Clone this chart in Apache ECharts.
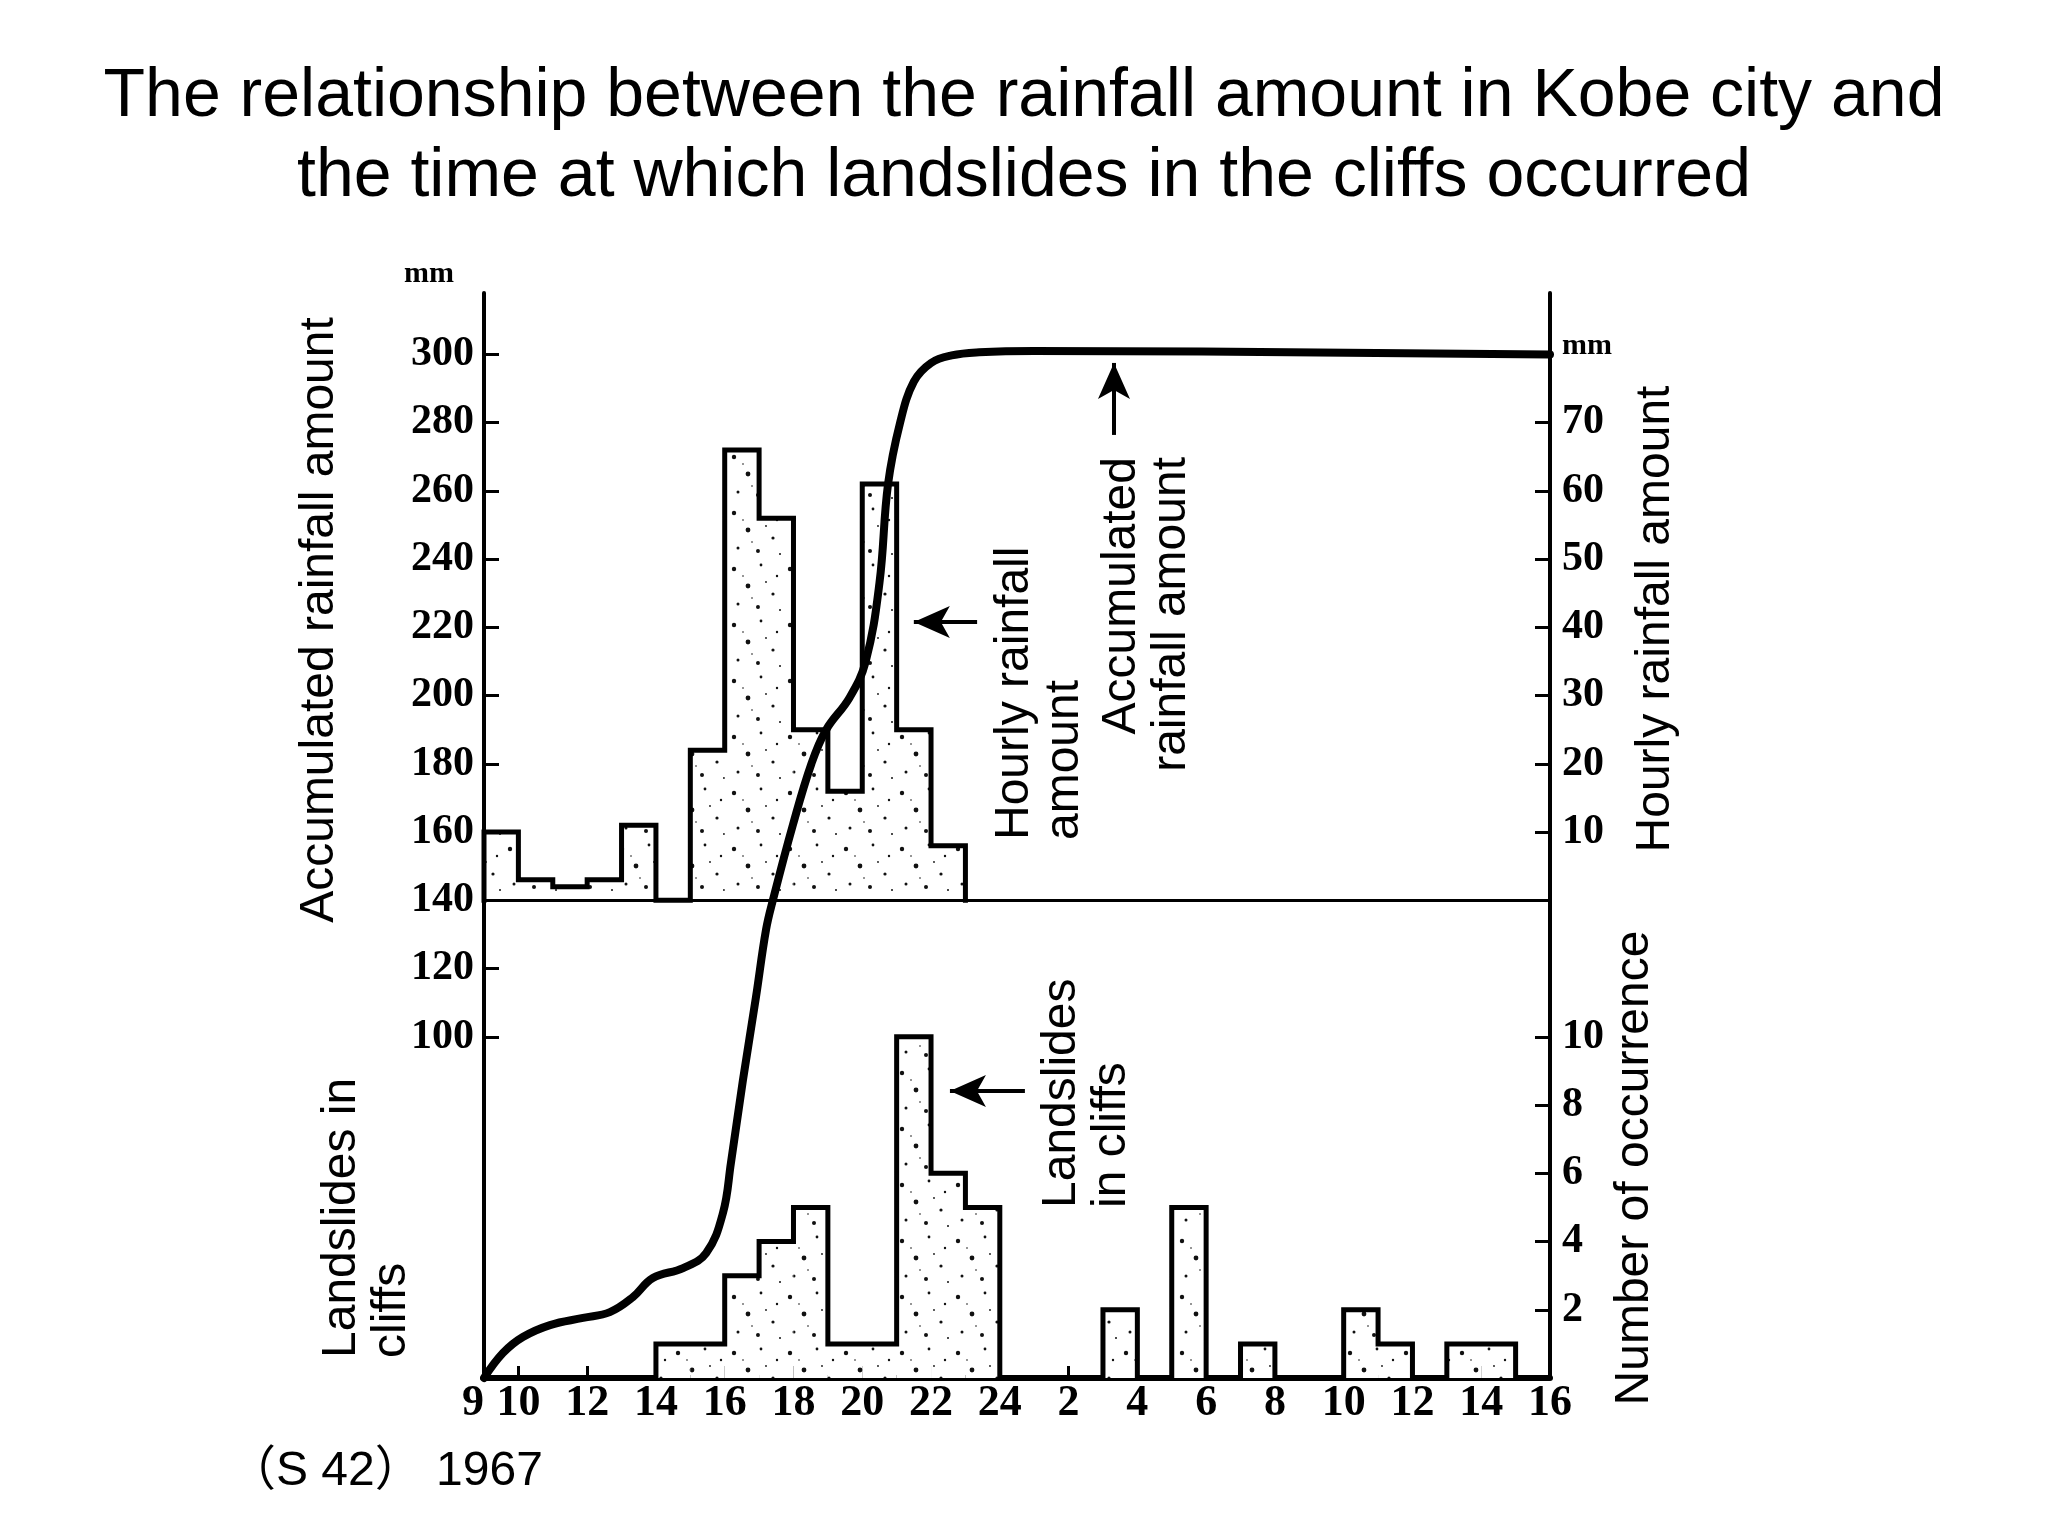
<!DOCTYPE html>
<html>
<head>
<meta charset="utf-8">
<title>Kobe rainfall and cliff landslides</title>
<script src="https://cdn.jsdelivr.net/npm/echarts@6.0.0/dist/echarts.min.js"></script>
<style>
  html, body { margin: 0; padding: 0; background: #fff; }
  #main { width: 2048px; height: 1536px; }
</style>
</head>
<body>
<div id="main"></div>
<script>
var chartDom = document.getElementById('main');
var myChart = echarts.init(chartDom);
var option;

// hours counted from 0:00 of the first day (9 = 9:00, 40 = 16:00 next day)
var hourLabels = [9, 10, 12, 14, 16, 18, 20, 22, 24, 26, 28, 30, 32, 34, 36, 38, 40];
var hourTicks = [10, 12, 14, 16, 18, 20, 22, 24, 26, 28, 30, 32, 34, 36, 38];

// hourly rainfall (mm), one value per hour from rainStart
var rainStart = 9;
var rainHourly = [10, 3, 2, 3, 11, 0, 22, 66, 56, 25, 16, 61, 25, 8];

// landslides in cliffs (count), one value per hour from slideStart
var slideStart = 14;
var slideCount = [1, 1, 3, 4, 5, 1, 1, 10, 6, 5, 0, 0, 0, 2, 0, 5, 0, 1, 0, 0, 2, 1, 0, 1, 1];

// accumulated rainfall [hour, mm]
var accumCurve = [
  [9, 0], [9.55, 7.3], [10.13, 12], [10.92, 15.5], [11.88, 17.6], [12.66, 19.3],
  [13.33, 23.7], [13.91, 29.3], [14.79, 32.2], [15.46, 36.6], [15.95, 48.4],
  [16.18, 63], [16.53, 87.3], [16.91, 111.7], [17.2, 131.3], [17.4, 140],
  [17.98, 162], [18.52, 180], [18.95, 190], [19.63, 199.4], [20.1, 210],
  [20.5, 233], [20.75, 262], [21.1, 280], [21.5, 292], [22.0, 297.5],
  [22.6, 299.7], [23.4, 300.6], [25, 301], [40, 300]
];

var accumTicks = [100, 120, 140, 160, 180, 200, 220, 240, 260, 280, 300];
var hourlyTicks = [10, 20, 30, 40, 50, 60, 70];
var occTicks = [2, 4, 6, 8, 10];

// annotation arrows [tail, head] in [hour, accumulated mm]
var arrows = [
  [[23.34, 221.6], [21.5, 221.6]],
  [[27.32, 276.4], [27.32, 297.5]],
  [[24.73, 84.1], [22.55, 84.1]]
];

var serif = "'Liberation Serif', 'DejaVu Serif', serif";
var sans = "'Liberation Sans', Arial, sans-serif";

// stipple texture for the histogram fill
var dots = document.createElement('canvas');
dots.width = 56;
dots.height = 56;
var dctx = dots.getContext('2d');
dctx.fillStyle = '#fff';
dctx.fillRect(0, 0, 56, 56);
dctx.fillStyle = '#111';
[[6, 9, 2.2], [33, 5, 1.4], [20, 26, 2.4], [45, 34, 1.6], [10, 44, 1.5], [30, 47, 2],
 [49, 16, 1.2], [38, 22, 0.9], [15, 16, 0.8], [24, 38, 0.8], [52, 50, 1]].forEach(function (d) {
  dctx.beginPath();
  dctx.arc(d[0], d[1], d[2], 0, Math.PI * 2);
  dctx.fill();
});
var stipple = { image: dots, repeat: 'repeat' };

function toBins(start, vals) {
  return vals.map(function (v, i) { return [start + i, start + i + 1, v]; });
}
function stepOutline(start, vals) {
  var pts = [[start, 0]];
  vals.forEach(function (v, i) { pts.push([start + i, v]); });
  pts.push([start + vals.length, 0]);
  return pts;
}
function renderBin(params, api) {
  var tl = api.coord([api.value(0), api.value(2)]);
  var br = api.coord([api.value(1), 0]);
  return {
    type: 'rect',
    shape: { x: tl[0], y: tl[1], width: br[0] - tl[0], height: br[1] - tl[1] },
    style: { fill: stipple }
  };
}
function vText(str, x, y, align) {
  return {
    type: 'text', x: x, y: y, rotation: Math.PI / 2,
    style: {
      text: str, fill: '#000', fontFamily: sans, fontSize: 48, lineHeight: 50,
      align: align, textAlign: align, verticalAlign: 'middle', textVerticalAlign: 'middle'
    }
  };
}

var labelStyle = { color: '#000', fontFamily: serif, fontWeight: 'bold', fontSize: 42 };

option = {
  animation: false,
  backgroundColor: '#fff',
  title: {
    text: 'The relationship between the rainfall amount in Kobe city and\nthe time at which landslides in the cliffs occurred',
    left: 'center',
    top: 57,
    padding: 0,
    textStyle: { fontFamily: sans, fontSize: 68, fontWeight: 'normal', color: '#000', lineHeight: 80 }
  },
  grid: { left: 484, top: 293, width: 1066, height: 1085, containLabel: false, outerBoundsMode: 'none' },
  xAxis: {
    type: 'value', min: 9, max: 40,
    axisLine: { onZero: false, lineStyle: { color: '#000', width: 6 } },
    axisTick: { inside: true, length: 12, customValues: hourTicks, lineStyle: { color: '#000', width: 3 } },
    axisLabel: {
      customValues: hourLabels, margin: 4, color: '#000', fontFamily: serif, fontWeight: 'bold', fontSize: 44,
      alignMinLabel: 'right',
      formatter: function (v) { return v > 24 ? String(v - 24) : String(v); }
    },
    splitLine: { show: false }
  },
  yAxis: [
    {
      type: 'value', position: 'left', min: 0, max: 318,
      name: 'mm', nameLocation: 'end', nameGap: 4,
      nameTextStyle: { align: 'right', verticalAlign: 'bottom', padding: [0, 30, 0, 0], fontFamily: serif, fontWeight: 'bold', fontSize: 30, color: '#000' },
      axisLine: { show: true, lineStyle: { color: '#000', width: 4 } },
      axisTick: { show: true, inside: true, length: 15, customValues: accumTicks, lineStyle: { color: '#000', width: 3 } },
      axisLabel: Object.assign({ customValues: accumTicks, margin: 10 }, labelStyle),
      splitLine: { show: false }
    },
    {
      type: 'value', position: 'right', min: -70, max: 89,
      axisLine: { show: true, lineStyle: { color: '#000', width: 4 } },
      axisTick: { show: true, inside: true, length: 15, customValues: hourlyTicks, lineStyle: { color: '#000', width: 3 } },
      axisLabel: Object.assign({
        customValues: hourlyTicks.concat([80]), margin: 12,
        formatter: function (v) { return v === 80 ? '{u|mm}' : String(v); },
        rich: { u: { fontFamily: serif, fontWeight: 'bold', fontSize: 30, color: '#000', padding: [0, 0, 16, 0] } }
      }, labelStyle),
      splitLine: { show: false }
    },
    {
      type: 'value', position: 'right', min: 0, max: 31.8,
      axisLine: { show: false },
      axisTick: { show: true, inside: true, length: 15, customValues: occTicks, lineStyle: { color: '#000', width: 3 } },
      axisLabel: Object.assign({ customValues: occTicks, margin: 12 }, labelStyle),
      splitLine: { show: false }
    }
  ],
  graphic: {
    elements: [
      vText('Accumulated rainfall amount', 320, 620, 'center'),
      vText('Landslides in\ncliffs', 367, 1358, 'left'),
      vText('Hourly rainfall amount', 1656, 619, 'center'),
      vText('Number of occurrence', 1635, 1168, 'center'),
      vText('Hourly rainfall\namount', 1040, 840, 'left'),
      vText('Accumulated\nrainfall amount', 1147, 457, 'right'),
      vText('Landslides\nin cliffs', 1087, 1208, 'left'),
      {
        type: 'text', x: 228, y: 1472,
        style: {
          text: '（S 42） 1967', fill: '#000', fontSize: 48,
          fontFamily: "'Liberation Sans', 'Noto Sans CJK JP', sans-serif",
          align: 'left', textAlign: 'left', verticalAlign: 'middle', textVerticalAlign: 'middle'
        }
      }
    ]
  },
  series: [
    {
      name: 'Hourly rainfall fill', type: 'custom', xAxisIndex: 0, yAxisIndex: 1,
      renderItem: renderBin, encode: { x: [0, 1], y: 2 },
      data: toBins(rainStart, rainHourly), z: 2, silent: true
    },
    {
      name: 'Landslides fill', type: 'custom', xAxisIndex: 0, yAxisIndex: 2,
      renderItem: renderBin, encode: { x: [0, 1], y: 2 },
      data: toBins(slideStart, slideCount), z: 2, silent: true
    },
    {
      name: 'Hourly rainfall', type: 'line', xAxisIndex: 0, yAxisIndex: 1,
      step: 'end', symbol: 'none', clip: false, z: 3, silent: true,
      lineStyle: { color: '#000', width: 5, join: 'miter', cap: 'square' },
      data: stepOutline(rainStart, rainHourly),
      markLine: {
        silent: true, symbol: 'none', animation: false,
        label: { show: false },
        lineStyle: { color: '#000', width: 3, type: 'solid' },
        data: [{ yAxis: 0 }]
      }
    },
    {
      name: 'Landslides in cliffs', type: 'line', xAxisIndex: 0, yAxisIndex: 2,
      step: 'end', symbol: 'none', clip: false, z: 3, silent: true,
      lineStyle: { color: '#000', width: 5, join: 'miter', cap: 'square' },
      data: stepOutline(slideStart, slideCount)
    },
    {
      name: 'Accumulated rainfall', type: 'line', xAxisIndex: 0, yAxisIndex: 0,
      smooth: 0.4, symbol: 'none', clip: false, z: 5, silent: true,
      lineStyle: { color: '#000', width: 8, cap: 'round', join: 'round' },
      data: accumCurve,
      markLine: {
        silent: true, animation: false,
        symbol: ['none', 'arrow'], symbolSize: [24, 36],
        label: { show: false },
        lineStyle: { color: '#000', width: 4, type: 'solid' },
        data: arrows.map(function (a) { return [{ coord: a[0] }, { coord: a[1] }]; })
      }
    }
  ]
};

option && myChart.setOption(option);
</script>
</body>
</html>
